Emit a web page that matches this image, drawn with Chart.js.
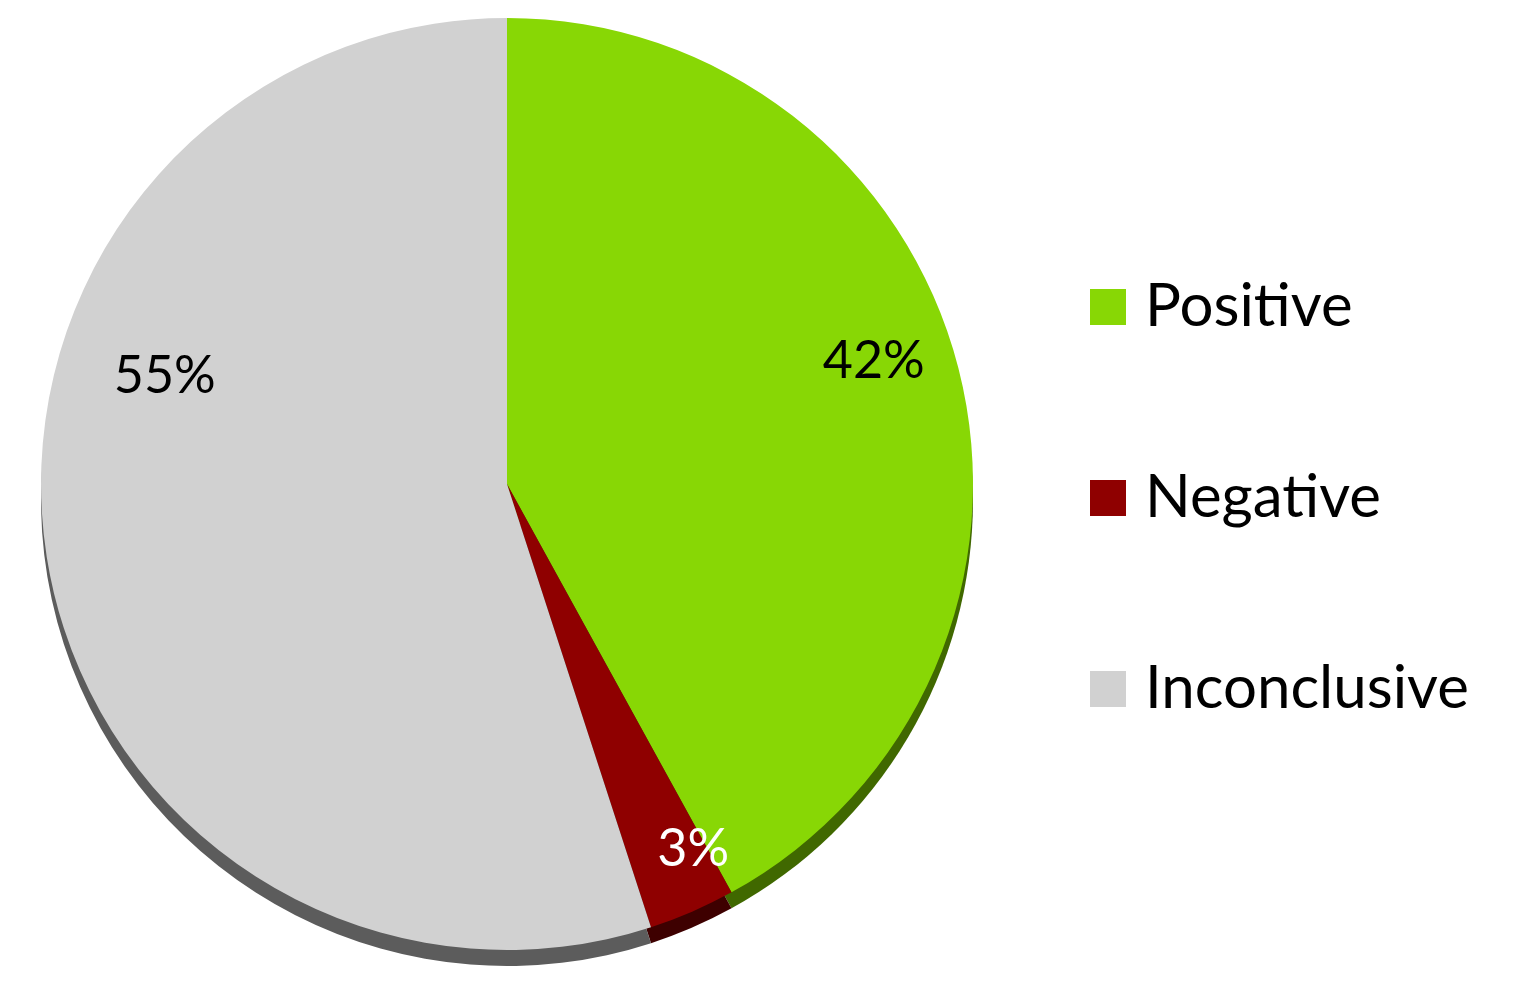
<!DOCTYPE html>
<html>
<head>
<meta charset="utf-8">
<script src="https://cdn.jsdelivr.net/npm/chart.js@4"></script>
<style>
  html, body { margin: 0; padding: 0; background: #fff; }
  #wrap { width: 1536px; height: 989px; }
</style>
</head>
<body>
<div id="wrap"><canvas id="resultChart"></canvas></div>
<script>
const categories = ['Positive', 'Negative', 'Inconclusive'];
const shares = [42, 3, 55];
const sliceColors = ['#88d705', '#8f0000', '#d1d1d1'];
const edgeColors = ['#406800', '#3e0000', '#5c5c5c'];
const labelColors = ['#000000', '#ffffff', '#000000'];

// fake 3D rim: the same arcs, pushed down and darker
const rimPlugin = {
    id: 'rim',
    beforeDatasetsDraw(chart, args, opts) {
        const ctx = chart.ctx;
        const arcs = chart.getDatasetMeta(0).data;
        ctx.save();
        ctx.translate(0, opts.depth);
        arcs.forEach((arc, i) => {
            ctx.beginPath();
            ctx.moveTo(arc.x, arc.y);
            ctx.arc(arc.x, arc.y, arc.outerRadius, arc.startAngle, arc.endAngle);
            ctx.closePath();
            ctx.fillStyle = edgeColors[i];
            ctx.fill();
        });
        ctx.restore();
    }
};

// percent labels, placed in polar terms around the pie centre
const pctPlugin = {
    id: 'pct',
    afterDatasetsDraw(chart, args, opts) {
        const ctx = chart.ctx;
        const arcs = chart.getDatasetMeta(0).data;
        ctx.save();
        ctx.font = opts.font;
        ctx.textAlign = 'center';
        ctx.textBaseline = 'middle';
        arcs.forEach((arc, i) => {
            const p = opts.place[i];
            const a = p.angle * Math.PI / 180;
            const r = arc.outerRadius * p.frac;
            ctx.fillStyle = labelColors[i];
            ctx.fillText(shares[i] + '%', arc.x + Math.cos(a) * r, arc.y + Math.sin(a) * r);
        });
        ctx.restore();
    }
};

// legend column to the right of the pie, spaced like the original
const sideLegend = {
    id: 'sideLegend',
    afterDraw(chart, args, opts) {
        const ctx = chart.ctx;
        const area = chart.chartArea;
        const midY = (area.top + area.bottom) / 2 + opts.shiftY;
        const x = area.right + opts.gap;
        ctx.save();
        ctx.font = opts.font;
        ctx.textBaseline = 'middle';
        ctx.textAlign = 'left';
        chart.data.labels.forEach((lab, i) => {
            const y = midY + (i - 1) * opts.step;
            ctx.fillStyle = sliceColors[i];
            ctx.fillRect(x, y - opts.box / 2, opts.box, opts.box);
            ctx.fillStyle = '#000';
            ctx.fillText(lab, x + opts.box + opts.textGap, y);
        });
        ctx.restore();
    }
};

new Chart(document.getElementById('resultChart'), {
    type: 'pie',
    data: {
        labels: categories,
        datasets: [{
            data: shares,
            backgroundColor: sliceColors,
            borderWidth: 0
        }]
    },
    options: {
        responsive: true,
        maintainAspectRatio: false,
        animation: false,
        layout: { padding: { top: 18, bottom: 39, left: 41, right: 563 } },
        plugins: {
            tooltip: { enabled: false },
            legend: { display: false },
            rim: { depth: 16 },
            pct: {
                font: '52px Lato',
                place: [
                    { frac: 0.83, angle: -18.5 },
                    { frac: 0.88, angle: 63 },
                    { frac: 0.77, angle: 197.5 }
                ]
            },
            sideLegend: {
                font: '60px Lato',
                gap: 117,
                box: 36,
                textGap: 19,
                step: 191,
                shiftY: 14
            }
        }
    },
    plugins: [rimPlugin, pctPlugin, sideLegend]
});
</script>
</body>
</html>
